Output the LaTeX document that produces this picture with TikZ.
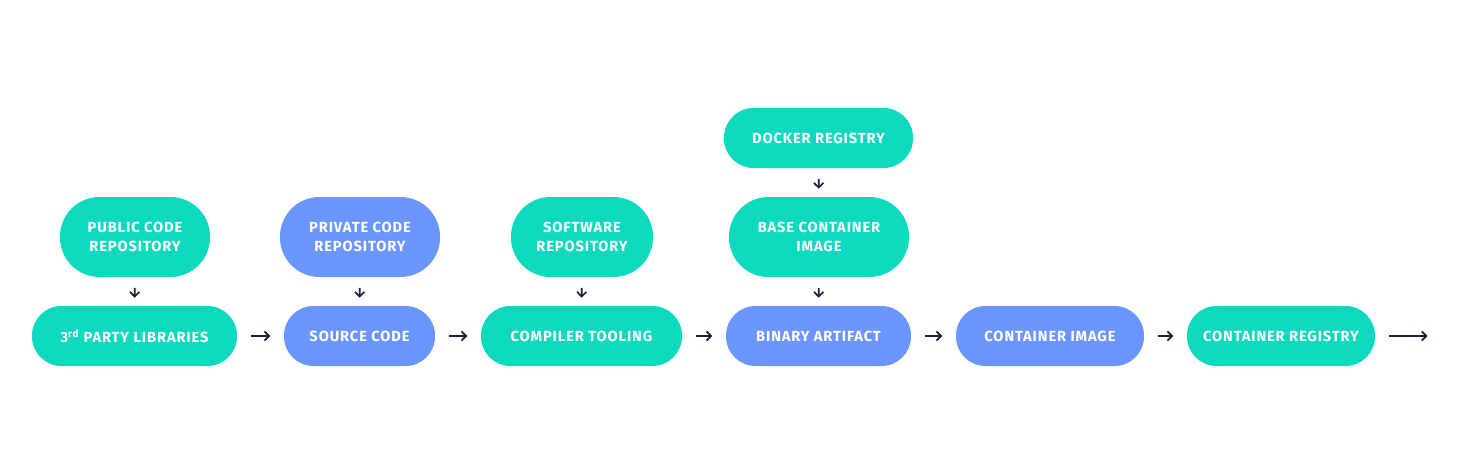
\documentclass[tikz,border=0pt]{standalone}
\usepackage{fontspec}
\setmainfont{Fira Sans}[LetterSpace=6]
\usetikzlibrary{arrows.meta}
\definecolor{teal}{HTML}{0DD9BF}
\definecolor{blu}{HTML}{6B96FF}
\definecolor{navy}{HTML}{1A1F3D}
\begin{document}
\begin{tikzpicture}[x=0.75pt,y=-0.75pt,
 box/.style={rounded corners=29.5*0.75pt,text=white,font=\fontsize{11}{14.5}\selectfont\bfseries,align=center,inner sep=0pt,minimum height=60*0.75pt},
 tall/.style={box,rounded corners=39.5*0.75pt,minimum height=80*0.75pt},
 g/.style={fill=teal},b/.style={fill=blu},
 arr/.style={draw=navy,line width=1.3pt,-{Straight Barb[length=3.5pt,width=7pt]}}]
\useasboundingbox (0,0) rectangle (1460,475);
\node[tall,g,minimum width=150*0.75pt] (pub) at (135,237) {PUBLIC CODE\\REPOSITORY};
\node[box,g,minimum width=205*0.75pt] (lib) at (134.5,336) {3\textsuperscript{rd} PARTY LIBRARIES};
\node[tall,b,minimum width=160*0.75pt] (priv) at (360,237) {PRIVATE CODE\\REPOSITORY};
\node[box,b,minimum width=151*0.75pt] (src) at (359.5,336) {SOURCE CODE};
\node[tall,g,minimum width=142*0.75pt] (sw) at (582,237) {SOFTWARE\\REPOSITORY};
\node[box,g,minimum width=201*0.75pt] (comp) at (581.5,336) {COMPILER TOOLING};
\node[box,g,minimum width=189*0.75pt] (dock) at (818.5,138) {DOCKER REGISTRY};
\node[tall,g,minimum width=180*0.75pt] (base) at (819,237) {BASE CONTAINER\\IMAGE};
\node[box,b,minimum width=185*0.75pt] (bin) at (818.5,336) {BINARY ARTIFACT};
\node[box,b,minimum width=188*0.75pt] (ci) at (1050,336) {CONTAINER IMAGE};
\node[box,g,minimum width=188*0.75pt] (reg) at (1281,336) {CONTAINER REGISTRY};
\coordinate (end) at (1441,336);
\foreach \a/\c in {pub/lib,priv/src,sw/comp,base/bin,dock/base}
  \draw[arr,shorten <=8pt,shorten >=6pt] (\a) -- (\c);
\foreach \a/\c in {lib/src,src/comp,comp/bin,bin/ci,ci/reg,reg/end}
  \draw[arr,shorten <=10pt,shorten >=10pt] (\a) -- (\c);
\end{tikzpicture}
\end{document}
